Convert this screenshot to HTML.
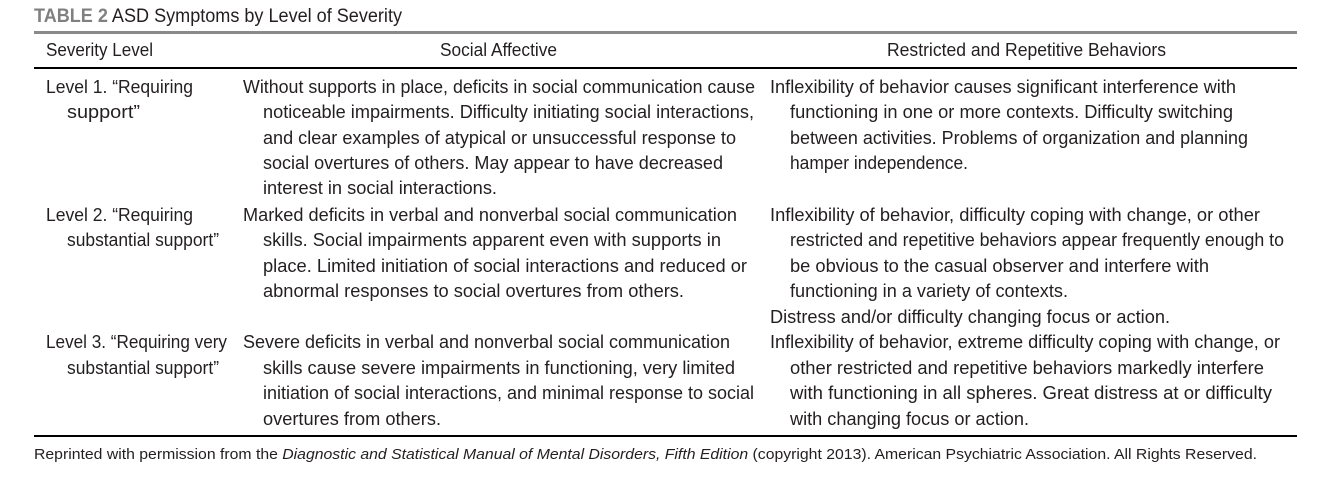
<!DOCTYPE html>
<html><head><meta charset="utf-8"><style>
html,body{margin:0;padding:0;background:#fff;}
svg{display:block;font-family:"Liberation Sans",Arial,sans-serif;}
text{font-size:18px;fill:#231f20;}
.f{font-size:15px;}
</style></head><body>
<svg width="1326" height="483" viewBox="0 0 1326 483" xmlns="http://www.w3.org/2000/svg">
<text x="34" y="22" lengthAdjust="spacingAndGlyphs" textLength="368" style="font-size:19px"><tspan font-weight="bold" fill="#808080">TABLE 2</tspan> ASD Symptoms by Level of Severity</text>
<rect x="34" y="31" width="1263" height="3" fill="#8a8a8a"/>
<rect x="34" y="67" width="1263" height="2" fill="#000"/>
<rect x="34" y="435" width="1263" height="2" fill="#000"/>
<g>
<text x="46" y="56" textLength="107" lengthAdjust="spacingAndGlyphs">Severity Level</text>
<text x="440" y="56" textLength="117" lengthAdjust="spacingAndGlyphs">Social Affective</text>
<text x="887" y="56" textLength="279" lengthAdjust="spacingAndGlyphs">Restricted and Repetitive Behaviors</text>

<text x="46" y="93" textLength="147" lengthAdjust="spacingAndGlyphs">Level 1. “Requiring</text>
<text x="67" y="118" textLength="73" lengthAdjust="spacingAndGlyphs">support”</text>
<text x="243" y="93" textLength="512" lengthAdjust="spacingAndGlyphs">Without supports in place, deficits in social communication cause</text>
<text x="263" y="118" textLength="491" lengthAdjust="spacingAndGlyphs">noticeable impairments. Difficulty initiating social interactions,</text>
<text x="263" y="144" textLength="473" lengthAdjust="spacingAndGlyphs">and clear examples of atypical or unsuccessful response to</text>
<text x="263" y="169" textLength="460" lengthAdjust="spacingAndGlyphs">social overtures of others. May appear to have decreased</text>
<text x="263" y="194" textLength="234" lengthAdjust="spacingAndGlyphs">interest in social interactions.</text>
<text x="770" y="93" textLength="466" lengthAdjust="spacingAndGlyphs">Inflexibility of behavior causes significant interference with</text>
<text x="790" y="118" textLength="443" lengthAdjust="spacingAndGlyphs">functioning in one or more contexts. Difficulty switching</text>
<text x="790" y="144" textLength="458" lengthAdjust="spacingAndGlyphs">between activities. Problems of organization and planning</text>
<text x="790" y="169" textLength="178" lengthAdjust="spacingAndGlyphs">hamper independence.</text>

<text x="46" y="221" textLength="147" lengthAdjust="spacingAndGlyphs">Level 2. “Requiring</text>
<text x="67" y="246" textLength="152" lengthAdjust="spacingAndGlyphs">substantial support”</text>
<text x="243" y="221" textLength="494" lengthAdjust="spacingAndGlyphs">Marked deficits in verbal and nonverbal social communication</text>
<text x="263" y="246" textLength="458" lengthAdjust="spacingAndGlyphs">skills. Social impairments apparent even with supports in</text>
<text x="263" y="272" textLength="484" lengthAdjust="spacingAndGlyphs">place. Limited initiation of social interactions and reduced or</text>
<text x="263" y="297" textLength="421" lengthAdjust="spacingAndGlyphs">abnormal responses to social overtures from others.</text>
<text x="770" y="221" textLength="490" lengthAdjust="spacingAndGlyphs">Inflexibility of behavior, difficulty coping with change, or other</text>
<text x="790" y="246" textLength="494" lengthAdjust="spacingAndGlyphs">restricted and repetitive behaviors appear frequently enough to</text>
<text x="790" y="272" textLength="419" lengthAdjust="spacingAndGlyphs">be obvious to the casual observer and interfere with</text>
<text x="790" y="297" textLength="278" lengthAdjust="spacingAndGlyphs">functioning in a variety of contexts.</text>
<text x="770" y="323" textLength="400" lengthAdjust="spacingAndGlyphs">Distress and/or difficulty changing focus or action.</text>

<text x="46" y="348" textLength="181" lengthAdjust="spacingAndGlyphs">Level 3. “Requiring very</text>
<text x="67" y="374" textLength="152" lengthAdjust="spacingAndGlyphs">substantial support”</text>
<text x="243" y="348" textLength="487" lengthAdjust="spacingAndGlyphs">Severe deficits in verbal and nonverbal social communication</text>
<text x="263" y="374" textLength="472" lengthAdjust="spacingAndGlyphs">skills cause severe impairments in functioning, very limited</text>
<text x="263" y="399" textLength="491" lengthAdjust="spacingAndGlyphs">initiation of social interactions, and minimal response to social</text>
<text x="263" y="425" textLength="178" lengthAdjust="spacingAndGlyphs">overtures from others.</text>
<text x="770" y="348" textLength="510" lengthAdjust="spacingAndGlyphs">Inflexibility of behavior, extreme difficulty coping with change, or</text>
<text x="790" y="374" textLength="474" lengthAdjust="spacingAndGlyphs">other restricted and repetitive behaviors markedly interfere</text>
<text x="790" y="399" textLength="482" lengthAdjust="spacingAndGlyphs">with functioning in all spheres. Great distress at or difficulty</text>
<text x="790" y="425" textLength="239" lengthAdjust="spacingAndGlyphs">with changing focus or action.</text>

<text class="f" x="34" y="459" textLength="1223" lengthAdjust="spacingAndGlyphs">Reprinted with permission from the <tspan font-style="italic">Diagnostic and Statistical Manual of Mental Disorders, Fifth Edition</tspan> (copyright 2013). American Psychiatric Association. All Rights Reserved.</text>
</g>
</svg>
</body></html>
